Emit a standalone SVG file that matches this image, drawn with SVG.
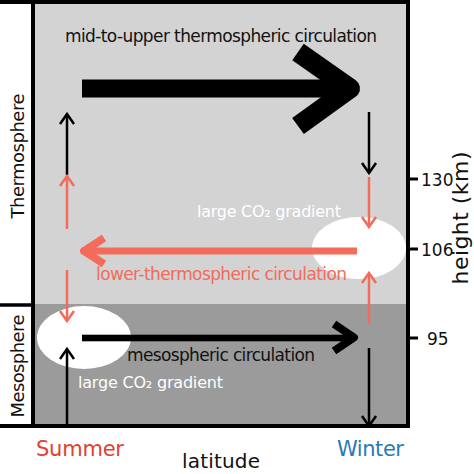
<svg xmlns="http://www.w3.org/2000/svg" width="474" height="474" viewBox="0 0 474 474">
<style>
text{font-family:"DejaVu Sans","Liberation Sans",sans-serif;}
.t{font-size:17px;fill:#111;text-anchor:middle;}
.w{font-size:16px;fill:#ffffff;text-anchor:middle;}
.red{fill:#f26b5b;}
.tk{font-size:17px;fill:#111;}
.frame{fill:none;stroke:#000;stroke-width:4;}
.thinK{stroke:#000;stroke-width:2.5;fill:none;}
.thinR{stroke:#f36b5a;stroke-width:2.5;fill:none;}
</style>
<defs>
<marker id="hk" markerUnits="userSpaceOnUse" viewBox="-12 -9 14 18" markerWidth="14" markerHeight="18" refX="0" refY="0" orient="auto">
<path d="M-10,-7 L0,0 L-10,7" fill="none" stroke="#000" stroke-width="2.5"/>
</marker>
<marker id="hr" markerUnits="userSpaceOnUse" viewBox="-12 -9 14 18" markerWidth="14" markerHeight="18" refX="0" refY="0" orient="auto">
<path d="M-10,-7 L0,0 L-10,7" fill="none" stroke="#f36b5a" stroke-width="2.5"/>
</marker>
</defs>
<rect x="0" y="0" width="474" height="474" fill="#ffffff"/>
<g id="background">
<rect x="33" y="2" width="375" height="302" fill="#d3d3d3"/>
<rect x="33" y="304" width="375" height="122" fill="#9b9b9b"/>
<ellipse cx="359" cy="248" rx="47" ry="31" fill="#ffffff"/>
<ellipse cx="84" cy="337.5" rx="47" ry="31.5" fill="#ffffff"/>
</g>
<g id="frame">
<rect class="frame" x="33" y="2" width="375" height="424"/>
<line x1="0" y1="2" x2="33" y2="2" stroke="#000" stroke-width="4"/>
<line x1="0" y1="426" x2="33" y2="426" stroke="#000" stroke-width="4"/>
<line x1="0" y1="305" x2="33" y2="305" stroke="#000" stroke-width="3.5"/>
<line x1="408" y1="179" x2="418" y2="179" stroke="#000" stroke-width="3"/>
<line x1="408" y1="249" x2="418" y2="249" stroke="#000" stroke-width="3"/>
<line x1="408" y1="338" x2="418" y2="338" stroke="#000" stroke-width="3"/>
</g>
<g id="connectors">
<rect x="82" y="79.5" width="270" height="18" fill="#000"/>
<path d="M298,52 L350,88.5 L298,126" fill="none" stroke="#000" stroke-width="20" stroke-linejoin="round"/>
<rect x="82" y="247.5" width="275" height="7" fill="#f36b5a"/>
<path d="M104,238 L84,251 L104,264" fill="none" stroke="#f36b5a" stroke-width="8" stroke-linejoin="round"/>
<rect x="82" y="334.7" width="272" height="6.6" fill="#000"/>
<path d="M334,324 L354,337.5 L334,351" fill="none" stroke="#000" stroke-width="8" stroke-linejoin="round"/>
<line class="thinK" x1="67" y1="175" x2="67" y2="114" marker-end="url(#hk)"/>
<line class="thinR" x1="67" y1="229" x2="67" y2="176" marker-end="url(#hr)"/>
<line class="thinR" x1="67" y1="270" x2="67" y2="321" marker-end="url(#hr)"/>
<line class="thinK" x1="67" y1="426" x2="67" y2="349" marker-end="url(#hk)"/>
<line class="thinK" x1="369" y1="112" x2="369" y2="173" marker-end="url(#hk)"/>
<line class="thinR" x1="369" y1="177" x2="369" y2="227" marker-end="url(#hr)"/>
<line class="thinR" x1="369" y1="324" x2="369" y2="273" marker-end="url(#hr)"/>
<line class="thinK" x1="369" y1="348" x2="369" y2="426" marker-end="url(#hk)"/>
</g>
<g id="labels">
<text class="t" x="221" y="42" textLength="312">mid-to-upper thermospheric circulation</text>
<text class="w" x="269" y="217" textLength="144">large CO₂ gradient</text>
<text class="t red" x="221.5" y="280" textLength="251">lower-thermospheric circulation</text>
<text class="t" x="221" y="361" textLength="188">mesospheric circulation</text>
<text class="w" x="150.5" y="388" textLength="145">large CO₂ gradient</text>
<text x="80" y="456" font-size="21" fill="#e3412f" text-anchor="middle" textLength="88">Summer</text>
<text x="370.5" y="456" font-size="21" fill="#2a7ab5" text-anchor="middle" textLength="67">Winter</text>
<text x="221" y="468" font-size="20" fill="#111" text-anchor="middle" textLength="78">latitude</text>
<text class="tk" x="421" y="186">130</text>
<text class="tk" x="421" y="256">106</text>
<text class="tk" x="427" y="345">95</text>
<text transform="translate(468,218) rotate(-90)" font-size="22" fill="#111" text-anchor="middle" textLength="133">height (km)</text>
<text transform="translate(24,156) rotate(-90)" font-size="18" fill="#111" text-anchor="middle" textLength="125">Thermosphere</text>
<text transform="translate(24,366) rotate(-90)" font-size="18" fill="#111" text-anchor="middle" textLength="103">Mesosphere</text>
</g>
</svg>
